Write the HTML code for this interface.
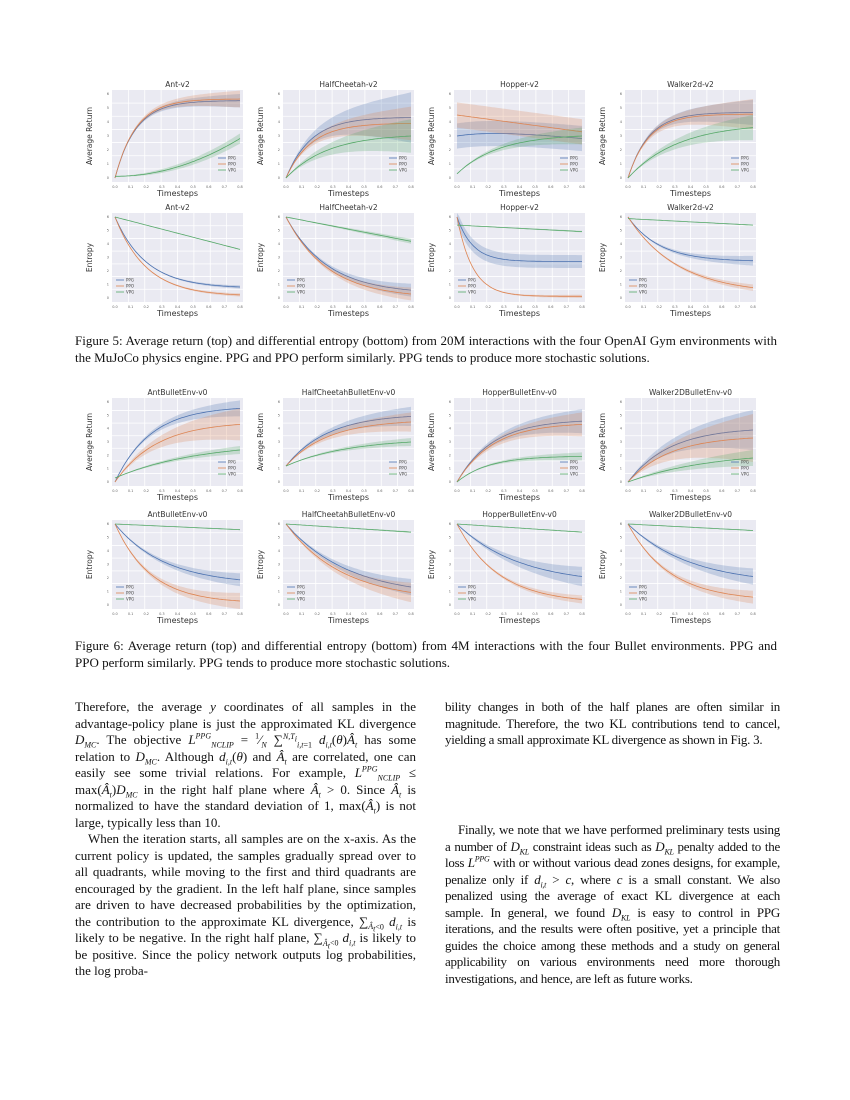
<!DOCTYPE html>
<html><head><meta charset="utf-8">
<style>
body{margin:0;background:#fff;width:850px;height:1100px;position:relative;overflow:hidden;font-family:"Liberation Serif",serif;color:#111}
svg{position:absolute;left:0;top:0}
.cap{position:absolute;left:75px;width:702px;font-size:13px;line-height:16.5px;text-align:justify}
.col{position:absolute;width:341px;font-size:13px;line-height:16.5px;text-align:justify;hyphens:auto}
.col p{margin:0}
.rc{width:335px;letter-spacing:-0.25px}
i{font-style:italic}
sub,sup{font-size:8px;line-height:0}
</style></head><body>
<svg id="s" width="850" height="1100" xmlns="http://www.w3.org/2000/svg"></svg>
<div class="cap" style="top:333px">Figure 5: Average return (top) and differential entropy (bottom) from 20M interactions with the four OpenAI Gym environments with the MuJoCo physics engine. PPG and PPO perform similarly. PPG tends to produce more stochastic solutions.</div>
<div class="cap" style="top:638px">Figure 6: Average return (top) and differential entropy (bottom) from 4M interactions with the four Bullet environments. PPG and PPO perform similarly. PPG tends to produce more stochastic solutions.</div>
<div class="col" style="left:75px;top:699px">
<p>Therefore, the average <i>y</i> coordinates of all samples in the advantage-policy plane is just the approximated KL divergence <i>D<sub>MC</sub></i>. The objective <i>L<sup>PPG</sup><sub>NCLIP</sub></i> = <sup>1</sup>&frasl;<sub><i>N</i></sub> &sum;<sup><i>N,T<sub>i</sub></i></sup><sub><i>i,t</i>=1</sub> <i>d<sub>i,t</sub></i>(<i>&theta;</i>)<i>&Acirc;<sub>t</sub></i> has some relation to <i>D<sub>MC</sub></i>. Although <i>d<sub>i,t</sub></i>(<i>&theta;</i>) and <i>&Acirc;<sub>t</sub></i> are correlated, one can easily see some trivial relations. For example, <i>L<sup>PPG</sup><sub>NCLIP</sub></i> &le; max(<i>&Acirc;<sub>t</sub></i>)<i>D<sub>MC</sub></i> in the right half plane where <i>&Acirc;<sub>t</sub></i> &gt; 0. Since <i>&Acirc;<sub>t</sub></i> is normalized to have the standard deviation of 1, max(<i>&Acirc;<sub>t</sub></i>) is not large, typically less than 10.</p>
<p style="text-indent:13px">When the iteration starts, all samples are on the x-axis. As the current policy is updated, the samples gradually spread over to all quadrants, while moving to the first and third quadrants are encouraged by the gradient. In the left half plane, since samples are driven to have decreased probabilities by the optimization, the contribution to the approximate KL divergence, &sum;<sub><i>&Acirc;<sub>t</sub></i>&lt;0</sub> <i>d<sub>i,t</sub></i> is likely to be negative. In the right half plane, &sum;<sub><i>&Acirc;<sub>t</sub></i>&lt;0</sub> <i>d<sub>i,t</sub></i> is likely to be positive. Since the policy network outputs log probabilities, the log proba-</p>
</div>
<div class="col rc" style="left:445px;top:699px">
<p>bility changes in both of the half planes are often similar in magnitude. Therefore, the two KL contributions tend to cancel, yielding a small approximate KL divergence as shown in Fig. 3.</p>
</div>
<div class="col rc" style="left:445px;top:822px">
<p style="text-indent:13px">Finally, we note that we have performed preliminary tests using a number of <i>D<sub>KL</sub></i> constraint ideas such as <i>D<sub>KL</sub></i> penalty added to the loss <i>L<sup>PPG</sup></i> with or without various dead zones designs, for example, penalize only if <i>d<sub>i,t</sub></i> &gt; <i>c</i>, where <i>c</i> is a small constant. We also penalized using the average of exact KL divergence at each sample. In general, we found <i>D<sub>KL</sub></i> is easy to control in PPG iterations, and the results were often positive, yet a principle that guides the choice among these methods and a study on general applicability on various environments need more thorough investigations, and hence, are left as future works.</p>
</div>
<script>
const S=document.getElementById('s');let h='';
const C=['#4c72b0','#dd8452','#55a868'];
const X0=[112,283,454,625],W=131;
function sat(k){return t=>(1-Math.exp(-k*t))/(1-Math.exp(-k))}
function panel(x,y,w,hh,title,ylab,ser,legTop){
 h+=`<rect x="${x}" y="${y}" width="${w}" height="${hh}" fill="#eaeaf2"/>`;
 for(let i=1;i<8;i++){let gx=x+w*i/8;h+=`<line x1="${gx}" y1="${y}" x2="${gx}" y2="${y+hh}" stroke="#fff" stroke-width="0.8"/>`}
 for(let i=1;i<7;i++){let gy=y+hh*i/7;h+=`<line x1="${x}" y1="${gy}" x2="${x+w}" y2="${gy}" stroke="#fff" stroke-width="0.8"/>`}
 h+=`<text x="${x+w/2}" y="${y-3}" font-size="7.5" text-anchor="middle" font-family="DejaVu Sans" fill="#333">${title}</text>`;
 h+=`<text x="${x+w/2}" y="${y+hh+14}" font-size="8" text-anchor="middle" font-family="DejaVu Sans" fill="#333">Timesteps</text>`;
 h+=`<text transform="translate(${x-20},${y+hh/2}) rotate(-90)" font-size="7.5" text-anchor="middle" font-family="DejaVu Sans" fill="#333">${ylab}</text>`;
 for(let i=0;i<=8;i++)h+=`<text x="${x+3+(w-6)*i/8}" y="${y+hh+6}" font-size="3.5" text-anchor="middle" fill="#666" font-family="DejaVu Sans">0.${i}</text>`;
 for(let i=0;i<=6;i++)h+=`<text x="${x-3}" y="${y+hh-4-(hh-8)*i/6+1}" font-size="3.5" text-anchor="end" fill="#666" font-family="DejaVu Sans">${i}</text>`;
 const N=60;
 ser.forEach((s,j)=>{
  let up=[],lo=[],m=[];
  for(let i=0;i<=N;i++){let t=i/N,v=s.f(t),b=s.b*(s.bs?s.bs(t):t);let px=x+3+(w-6)*t;
   let yy=v=>y+hh-4-(hh-8)*Math.max(-0.05,Math.min(1.05,v));
   up.push(px.toFixed(1)+','+yy(v+b).toFixed(1));lo.unshift(px.toFixed(1)+','+yy(v-b).toFixed(1));m.push(px.toFixed(1)+','+yy(v).toFixed(1));}
  h+=`<polygon points="${up.join(' ')} ${lo.join(' ')}" fill="${C[s.c]}" fill-opacity="0.25"/>`;
  h+=`<polyline points="${m.join(' ')}" fill="none" stroke="${C[s.c]}" stroke-width="0.8"/>`;
 });
 let lx=legTop?x+4:x+w-25,ly=legTop?y+hh-22:y+hh-24;
 ['PPG','PPO','VPG'].forEach((n,i)=>{h+=`<line x1="${lx}" y1="${ly+i*6}" x2="${lx+8}" y2="${ly+i*6}" stroke="${C[i]}" stroke-width="0.8"/><text x="${lx+10}" y="${ly+i*6+1.5}" font-size="4" fill="#444" font-family="DejaVu Sans">${n}</text>`});
}
const lin=(a,b)=>t=>a+(b-a)*t;
const dec=(a,b,k)=>t=>b+(a-b)*Math.exp(-k*t);
const R5=[
 [{c:0,f:t=>0.92*sat(6)(t),b:0.08},{c:1,f:t=>0.94*sat(6)(t),b:0.1},{c:2,f:t=>0.45*t*t+0.02,b:0.06}],
 [{c:0,f:t=>0.72*sat(5)(t),b:0.3},{c:1,f:t=>0.65*sat(5)(t),b:0.2},{c:2,f:t=>0.5*sat(3)(t),b:0.2}],
 [{c:0,f:t=>0.5+0.12*sat(3)(t)-0.15*t,b:0.15,bs:t=>1},{c:1,f:t=>0.75-0.2*t,b:0.15,bs:t=>1},{c:2,f:t=>0.45*sat(3)(t)+0.05,b:0.1}],
 [{c:0,f:t=>0.78*sat(6)(t),b:0.15},{c:1,f:t=>0.76*sat(6)(t),b:0.18},{c:2,f:t=>0.6*sat(2.5)(t),b:0.15}]];
const E5=[
 [{c:0,f:dec(1,0.12,4),b:0.02},{c:1,f:dec(1,0.02,4),b:0.02},{c:2,f:lin(1,0.6),b:0.005}],
 [{c:0,f:dec(1,0.05,3),b:0.08},{c:1,f:dec(1,0,3),b:0.08},{c:2,f:lin(1,0.7),b:0.03}],
 [{c:0,f:dec(1,0.45,8),b:0.08,bs:t=>1},{c:1,f:dec(1,0.02,8),b:0.02},{c:2,f:lin(0.9,0.82),b:0.01}],
 [{c:0,f:dec(1,0.45,4),b:0.06},{c:1,f:dec(1,0.05,2.5),b:0.04},{c:2,f:lin(0.98,0.9),b:0.005}]];
const R6=[
 [{c:0,f:t=>0.92*sat(3.5)(t),b:0.1},{c:1,f:t=>0.72*sat(3)(t),b:0.2},{c:2,f:t=>0.35*sat(1.5)(t)+0.05,b:0.05}],
 [{c:0,f:t=>0.2+0.62*sat(3)(t),b:0.12},{c:1,f:t=>0.2+0.55*sat(3)(t),b:0.12},{c:2,f:t=>0.2+0.3*sat(2)(t),b:0.05}],
 [{c:0,f:t=>0.76*sat(3.5)(t),b:0.15},{c:1,f:t=>0.72*sat(3.5)(t),b:0.15},{c:2,f:t=>0.32*sat(4)(t),b:0.05}],
 [{c:0,f:t=>0.65*sat(3)(t),b:0.25},{c:1,f:t=>0.55*sat(3)(t),b:0.3},{c:2,f:t=>0.3*sat(1.5)(t),b:0.1}]];
const E6=[
 [{c:0,f:dec(1,0.25,2.5),b:0.08},{c:1,f:dec(1,0.02,3.5),b:0.1},{c:2,f:lin(1,0.93),b:0.005}],
 [{c:0,f:dec(1,0.1,2),b:0.1},{c:1,f:dec(1,0.05,2.2),b:0.12},{c:2,f:lin(1,0.9),b:0.01}],
 [{c:0,f:dec(1,0.25,2),b:0.12},{c:1,f:dec(1,0.02,3),b:0.05},{c:2,f:lin(1,0.9),b:0.005}],
 [{c:0,f:dec(1,0.25,2),b:0.1},{c:1,f:dec(1,0.05,3),b:0.08},{c:2,f:lin(1,0.92),b:0.005}]];
const T5=['Ant-v2','HalfCheetah-v2','Hopper-v2','Walker2d-v2'];
const T6=['AntBulletEnv-v0','HalfCheetahBulletEnv-v0','HopperBulletEnv-v0','Walker2DBulletEnv-v0'];
for(let i=0;i<4;i++){
 panel(X0[i],90,W,92,T5[i],'Average Return',R5[i],false);
 panel(X0[i],213,W,89,T5[i],'Entropy',E5[i],true);
 panel(X0[i],398,W,88,T6[i],'Average Return',R6[i],false);
 panel(X0[i],520,W,89,T6[i],'Entropy',E6[i],true);
}
S.innerHTML=h;
</script>
</body></html>
